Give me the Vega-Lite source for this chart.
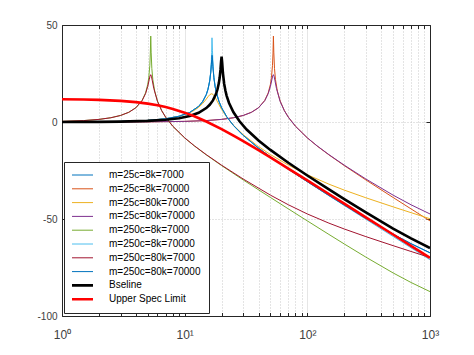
{
  "$schema": "https://vega.github.io/schema/vega-lite/v6.json",
  "width": 368,
  "height": 291,
  "autosize": {"type": "none"},
  "padding": {"left": 62, "top": 25, "right": 44, "bottom": 39},
  "background": "white",
  "config": {"view": {"stroke": null}, "font": "Liberation Sans"},
  "data": {"values": [
    {"s":"m=25c=8k=7000","w":1,"y":0.03},{"s":"m=25c=8k=7000","w":2,"y":0.125},{"s":"m=25c=8k=7000","w":3,"y":0.284},{"s":"m=25c=8k=7000","w":5,"y":0.81},{"s":"m=25c=8k=7000","w":7,"y":1.67},{"s":"m=25c=8k=7000","w":9,"y":2.97},{"s":"m=25c=8k=7000","w":11,"y":4.92},{"s":"m=25c=8k=7000","w":13,"y":8.04},{"s":"m=25c=8k=7000","w":14,"y":10.46},{"s":"m=25c=8k=7000","w":15,"y":14.1},{"s":"m=25c=8k=7000","w":15.5,"y":16.89},{"s":"m=25c=8k=7000","w":16,"y":21.15},{"s":"m=25c=8k=7000","w":16.3,"y":25.29},{"s":"m=25c=8k=7000","w":16.5,"y":29.5},{"s":"m=25c=8k=7000","w":16.6,"y":32.14},{"s":"m=25c=8k=7000","w":16.73,"y":34.37},{"s":"m=25c=8k=7000","w":16.85,"y":32.47},{"s":"m=25c=8k=7000","w":17,"y":28.5},{"s":"m=25c=8k=7000","w":17.3,"y":22.9},{"s":"m=25c=8k=7000","w":17.7,"y":18.37},{"s":"m=25c=8k=7000","w":18,"y":16.0},{"s":"m=25c=8k=7000","w":19,"y":10.75},{"s":"m=25c=8k=7000","w":20,"y":7.35},{"s":"m=25c=8k=7000","w":22,"y":2.75},{"s":"m=25c=8k=7000","w":25,"y":-1.81},{"s":"m=25c=8k=7000","w":30,"y":-6.9},{"s":"m=25c=8k=7000","w":40,"y":-13.46},{"s":"m=25c=8k=7000","w":50,"y":-17.97},{"s":"m=25c=8k=7000","w":70,"y":-24.32},{"s":"m=25c=8k=7000","w":100,"y":-30.75},{"s":"m=25c=8k=7000","w":150,"y":-37.87},{"s":"m=25c=8k=7000","w":200,"y":-42.82},{"s":"m=25c=8k=7000","w":300,"y":-49.63},{"s":"m=25c=8k=7000","w":500,"y":-57.78},{"s":"m=25c=8k=7000","w":700,"y":-62.71},{"s":"m=25c=8k=7000","w":1000,"y":-67.43},

    {"s":"m=25c=8k=70000","w":1,"y":0.003},{"s":"m=25c=8k=70000","w":3,"y":0.028},{"s":"m=25c=8k=70000","w":5,"y":0.078},{"s":"m=25c=8k=70000","w":10,"y":0.316},{"s":"m=25c=8k=70000","w":15,"y":0.728},{"s":"m=25c=8k=70000","w":20,"y":1.339},{"s":"m=25c=8k=70000","w":25,"y":2.193},{"s":"m=25c=8k=70000","w":30,"y":3.369},{"s":"m=25c=8k=70000","w":35,"y":5.0},{"s":"m=25c=8k=70000","w":40,"y":7.36},{"s":"m=25c=8k=70000","w":45,"y":11.16},{"s":"m=25c=8k=70000","w":48,"y":15.03},{"s":"m=25c=8k=70000","w":50,"y":19.39},{"s":"m=25c=8k=70000","w":51,"y":22.94},{"s":"m=25c=8k=70000","w":52,"y":29.17},{"s":"m=25c=8k=70000","w":52.5,"y":35.53},{"s":"m=25c=8k=70000","w":52.9,"y":44.3},{"s":"m=25c=8k=70000","w":53.3,"y":36.0},{"s":"m=25c=8k=70000","w":54,"y":27.56},{"s":"m=25c=8k=70000","w":55,"y":21.87},{"s":"m=25c=8k=70000","w":57,"y":15.89},{"s":"m=25c=8k=70000","w":60,"y":10.88},{"s":"m=25c=8k=70000","w":65,"y":5.87},{"s":"m=25c=8k=70000","w":70,"y":2.5},{"s":"m=25c=8k=70000","w":80,"y":-2.18},{"s":"m=25c=8k=70000","w":100,"y":-8.2},{"s":"m=25c=8k=70000","w":120,"y":-12.35},{"s":"m=25c=8k=70000","w":150,"y":-16.94},{"s":"m=25c=8k=70000","w":200,"y":-22.47},{"s":"m=25c=8k=70000","w":300,"y":-29.86},{"s":"m=25c=8k=70000","w":500,"y":-38.9},{"s":"m=25c=8k=70000","w":700,"y":-44.78},{"s":"m=25c=8k=70000","w":1000,"y":-50.98},

    {"s":"m=25c=80k=7000","w":1,"y":0.031},{"s":"m=25c=80k=7000","w":2,"y":0.125},{"s":"m=25c=80k=7000","w":3,"y":0.283},{"s":"m=25c=80k=7000","w":5,"y":0.809},{"s":"m=25c=80k=7000","w":7,"y":1.658},{"s":"m=25c=80k=7000","w":9,"y":2.922},{"s":"m=25c=80k=7000","w":11,"y":4.776},{"s":"m=25c=80k=7000","w":12,"y":6.02},{"s":"m=25c=80k=7000","w":13,"y":7.56},{"s":"m=25c=80k=7000","w":14,"y":9.48},{"s":"m=25c=80k=7000","w":15,"y":11.8},{"s":"m=25c=80k=7000","w":15.5,"y":13.01},{"s":"m=25c=80k=7000","w":16,"y":14.04},{"s":"m=25c=80k=7000","w":16.5,"y":14.55},{"s":"m=25c=80k=7000","w":17,"y":14.28},{"s":"m=25c=80k=7000","w":17.5,"y":13.29},{"s":"m=25c=80k=7000","w":18,"y":11.92},{"s":"m=25c=80k=7000","w":19,"y":9.03},{"s":"m=25c=80k=7000","w":20,"y":6.49},{"s":"m=25c=80k=7000","w":22,"y":2.53},{"s":"m=25c=80k=7000","w":25,"y":-1.7},{"s":"m=25c=80k=7000","w":30,"y":-6.52},{"s":"m=25c=80k=7000","w":40,"y":-12.68},{"s":"m=25c=80k=7000","w":50,"y":-16.78},{"s":"m=25c=80k=7000","w":70,"y":-22.21},{"s":"m=25c=80k=7000","w":100,"y":-27.19},{"s":"m=25c=80k=7000","w":150,"y":-32.04},{"s":"m=25c=80k=7000","w":200,"y":-35.1},{"s":"m=25c=80k=7000","w":300,"y":-39.06},{"s":"m=25c=80k=7000","w":500,"y":-43.74},{"s":"m=25c=80k=7000","w":700,"y":-46.73},{"s":"m=25c=80k=7000","w":1000,"y":-49.86},

    {"s":"m=25c=80k=70000","w":1,"y":0.003},{"s":"m=25c=80k=70000","w":3,"y":0.028},{"s":"m=25c=80k=70000","w":5,"y":0.078},{"s":"m=25c=80k=70000","w":10,"y":0.316},{"s":"m=25c=80k=70000","w":15,"y":0.727},{"s":"m=25c=80k=70000","w":20,"y":1.338},{"s":"m=25c=80k=70000","w":25,"y":2.19},{"s":"m=25c=80k=70000","w":30,"y":3.362},{"s":"m=25c=80k=70000","w":35,"y":4.98},{"s":"m=25c=80k=70000","w":40,"y":7.32},{"s":"m=25c=80k=70000","w":45,"y":11.02},{"s":"m=25c=80k=70000","w":48,"y":14.65},{"s":"m=25c=80k=70000","w":50,"y":18.33},{"s":"m=25c=80k=70000","w":51.5,"y":22.06},{"s":"m=25c=80k=70000","w":52.2,"y":23.7},{"s":"m=25c=80k=70000","w":52.9,"y":24.39},{"s":"m=25c=80k=70000","w":53.6,"y":23.55},{"s":"m=25c=80k=70000","w":54.5,"y":21.22},{"s":"m=25c=80k=70000","w":56,"y":17.35},{"s":"m=25c=80k=70000","w":60,"y":10.66},{"s":"m=25c=80k=70000","w":65,"y":5.8},{"s":"m=25c=80k=70000","w":70,"y":2.48},{"s":"m=25c=80k=70000","w":80,"y":-2.17},{"s":"m=25c=80k=70000","w":100,"y":-8.16},{"s":"m=25c=80k=70000","w":120,"y":-12.27},{"s":"m=25c=80k=70000","w":150,"y":-16.82},{"s":"m=25c=80k=70000","w":200,"y":-22.25},{"s":"m=25c=80k=70000","w":300,"y":-29.38},{"s":"m=25c=80k=70000","w":500,"y":-37.69},{"s":"m=25c=80k=70000","w":700,"y":-42.66},{"s":"m=25c=80k=70000","w":1000,"y":-47.4},

    {"s":"m=250c=8k=7000","w":1,"y":0.316},{"s":"m=250c=8k=7000","w":1.5,"y":0.728},{"s":"m=250c=8k=7000","w":2,"y":1.339},{"s":"m=250c=8k=7000","w":2.5,"y":2.193},{"s":"m=250c=8k=7000","w":3,"y":3.369},{"s":"m=250c=8k=7000","w":3.5,"y":5.0},{"s":"m=250c=8k=7000","w":4,"y":7.36},{"s":"m=250c=8k=7000","w":4.5,"y":11.16},{"s":"m=250c=8k=7000","w":4.8,"y":15.03},{"s":"m=250c=8k=7000","w":5,"y":19.4},{"s":"m=250c=8k=7000","w":5.1,"y":22.97},{"s":"m=250c=8k=7000","w":5.2,"y":29.17},{"s":"m=250c=8k=7000","w":5.25,"y":35.53},{"s":"m=250c=8k=7000","w":5.29,"y":44.3},{"s":"m=250c=8k=7000","w":5.33,"y":36.0},{"s":"m=250c=8k=7000","w":5.4,"y":27.56},{"s":"m=250c=8k=7000","w":5.5,"y":21.9},{"s":"m=250c=8k=7000","w":5.7,"y":15.9},{"s":"m=250c=8k=7000","w":6,"y":10.88},{"s":"m=250c=8k=7000","w":6.5,"y":5.87},{"s":"m=250c=8k=7000","w":7,"y":2.5},{"s":"m=250c=8k=7000","w":8,"y":-2.18},{"s":"m=250c=8k=7000","w":10,"y":-8.2},{"s":"m=250c=8k=7000","w":12,"y":-12.35},{"s":"m=250c=8k=7000","w":15,"y":-16.95},{"s":"m=250c=8k=7000","w":20,"y":-22.47},{"s":"m=250c=8k=7000","w":30,"y":-29.86},{"s":"m=250c=8k=7000","w":50,"y":-38.9},{"s":"m=250c=8k=7000","w":70,"y":-44.78},{"s":"m=250c=8k=7000","w":100,"y":-50.98},{"s":"m=250c=8k=7000","w":150,"y":-57.96},{"s":"m=250c=8k=7000","w":200,"y":-62.87},{"s":"m=250c=8k=7000","w":300,"y":-69.66},{"s":"m=250c=8k=7000","w":500,"y":-77.79},{"s":"m=250c=8k=7000","w":700,"y":-82.71},{"s":"m=250c=8k=7000","w":1000,"y":-87.43},

    {"s":"m=250c=8k=70000","w":1,"y":0.03},{"s":"m=250c=8k=70000","w":2,"y":0.125},{"s":"m=250c=8k=70000","w":3,"y":0.284},{"s":"m=250c=8k=70000","w":5,"y":0.81},{"s":"m=250c=8k=70000","w":7,"y":1.67},{"s":"m=250c=8k=70000","w":9,"y":2.97},{"s":"m=250c=8k=70000","w":11,"y":4.92},{"s":"m=250c=8k=70000","w":13,"y":8.04},{"s":"m=250c=8k=70000","w":14,"y":10.46},{"s":"m=250c=8k=70000","w":15,"y":14.13},{"s":"m=250c=8k=70000","w":15.5,"y":16.96},{"s":"m=250c=8k=70000","w":16,"y":21.34},{"s":"m=250c=8k=70000","w":16.3,"y":25.82},{"s":"m=250c=8k=70000","w":16.5,"y":31.16},{"s":"m=250c=8k=70000","w":16.6,"y":35.94},{"s":"m=250c=8k=70000","w":16.7,"y":43.4},{"s":"m=250c=8k=70000","w":16.85,"y":37.0},{"s":"m=250c=8k=70000","w":17,"y":29.84},{"s":"m=250c=8k=70000","w":17.3,"y":23.23},{"s":"m=250c=8k=70000","w":17.7,"y":18.5},{"s":"m=250c=8k=70000","w":18,"y":16.07},{"s":"m=250c=8k=70000","w":19,"y":10.77},{"s":"m=250c=8k=70000","w":20,"y":7.36},{"s":"m=250c=8k=70000","w":22,"y":2.75},{"s":"m=250c=8k=70000","w":25,"y":-1.81},{"s":"m=250c=8k=70000","w":30,"y":-6.9},{"s":"m=250c=8k=70000","w":40,"y":-13.47},{"s":"m=250c=8k=70000","w":50,"y":-17.98},{"s":"m=250c=8k=70000","w":70,"y":-24.35},{"s":"m=250c=8k=70000","w":100,"y":-30.81},{"s":"m=250c=8k=70000","w":150,"y":-37.99},{"s":"m=250c=8k=70000","w":200,"y":-43.03},{"s":"m=250c=8k=70000","w":300,"y":-50.11},{"s":"m=250c=8k=70000","w":500,"y":-58.99},{"s":"m=250c=8k=70000","w":700,"y":-64.83},{"s":"m=250c=8k=70000","w":1000,"y":-71.0},

    {"s":"m=250c=80k=7000","w":1,"y":0.316},{"s":"m=250c=80k=7000","w":1.5,"y":0.727},{"s":"m=250c=80k=7000","w":2,"y":1.338},{"s":"m=250c=80k=7000","w":2.5,"y":2.19},{"s":"m=250c=80k=7000","w":3,"y":3.362},{"s":"m=250c=80k=7000","w":3.5,"y":4.98},{"s":"m=250c=80k=7000","w":4,"y":7.32},{"s":"m=250c=80k=7000","w":4.5,"y":11.02},{"s":"m=250c=80k=7000","w":4.8,"y":14.65},{"s":"m=250c=80k=7000","w":5,"y":18.33},{"s":"m=250c=80k=7000","w":5.15,"y":22.06},{"s":"m=250c=80k=7000","w":5.22,"y":23.7},{"s":"m=250c=80k=7000","w":5.29,"y":24.39},{"s":"m=250c=80k=7000","w":5.36,"y":23.55},{"s":"m=250c=80k=7000","w":5.45,"y":21.22},{"s":"m=250c=80k=7000","w":5.6,"y":17.35},{"s":"m=250c=80k=7000","w":6,"y":10.66},{"s":"m=250c=80k=7000","w":6.5,"y":5.8},{"s":"m=250c=80k=7000","w":7,"y":2.48},{"s":"m=250c=80k=7000","w":8,"y":-2.17},{"s":"m=250c=80k=7000","w":10,"y":-8.16},{"s":"m=250c=80k=7000","w":12,"y":-12.27},{"s":"m=250c=80k=7000","w":15,"y":-16.82},{"s":"m=250c=80k=7000","w":20,"y":-22.25},{"s":"m=250c=80k=7000","w":30,"y":-29.38},{"s":"m=250c=80k=7000","w":50,"y":-37.69},{"s":"m=250c=80k=7000","w":70,"y":-42.66},{"s":"m=250c=80k=7000","w":100,"y":-47.4},{"s":"m=250c=80k=7000","w":150,"y":-52.14},{"s":"m=250c=80k=7000","w":200,"y":-55.15},{"s":"m=250c=80k=7000","w":300,"y":-59.08},{"s":"m=250c=80k=7000","w":500,"y":-63.74},{"s":"m=250c=80k=7000","w":700,"y":-66.73},{"s":"m=250c=80k=7000","w":1000,"y":-69.86},

    {"s":"m=250c=80k=70000","w":1,"y":0.03},{"s":"m=250c=80k=70000","w":2,"y":0.125},{"s":"m=250c=80k=70000","w":3,"y":0.284},{"s":"m=250c=80k=70000","w":5,"y":0.81},{"s":"m=250c=80k=70000","w":7,"y":1.67},{"s":"m=250c=80k=70000","w":9,"y":2.97},{"s":"m=250c=80k=70000","w":11,"y":4.92},{"s":"m=250c=80k=70000","w":13,"y":8.04},{"s":"m=250c=80k=70000","w":14,"y":10.46},{"s":"m=250c=80k=70000","w":15,"y":14.1},{"s":"m=250c=80k=70000","w":15.5,"y":16.89},{"s":"m=250c=80k=70000","w":16,"y":21.15},{"s":"m=250c=80k=70000","w":16.3,"y":25.29},{"s":"m=250c=80k=70000","w":16.5,"y":29.5},{"s":"m=250c=80k=70000","w":16.6,"y":32.14},{"s":"m=250c=80k=70000","w":16.73,"y":34.37},{"s":"m=250c=80k=70000","w":16.85,"y":32.47},{"s":"m=250c=80k=70000","w":17,"y":28.5},{"s":"m=250c=80k=70000","w":17.3,"y":22.9},{"s":"m=250c=80k=70000","w":17.7,"y":18.37},{"s":"m=250c=80k=70000","w":18,"y":16.0},{"s":"m=250c=80k=70000","w":19,"y":10.75},{"s":"m=250c=80k=70000","w":20,"y":7.35},{"s":"m=250c=80k=70000","w":22,"y":2.75},{"s":"m=250c=80k=70000","w":25,"y":-1.81},{"s":"m=250c=80k=70000","w":30,"y":-6.9},{"s":"m=250c=80k=70000","w":40,"y":-13.46},{"s":"m=250c=80k=70000","w":50,"y":-17.97},{"s":"m=250c=80k=70000","w":70,"y":-24.32},{"s":"m=250c=80k=70000","w":100,"y":-30.75},{"s":"m=250c=80k=70000","w":150,"y":-37.87},{"s":"m=250c=80k=70000","w":200,"y":-42.82},{"s":"m=250c=80k=70000","w":300,"y":-49.63},{"s":"m=250c=80k=70000","w":500,"y":-57.78},{"s":"m=250c=80k=70000","w":700,"y":-62.71},{"s":"m=250c=80k=70000","w":1000,"y":-67.43},

    {"s":"Bseline","w":1,"y":0.022},{"s":"Bseline","w":2,"y":0.087},{"s":"Bseline","w":3,"y":0.198},{"s":"Bseline","w":5,"y":0.561},{"s":"Bseline","w":7,"y":1.135},{"s":"Bseline","w":9,"y":1.965},{"s":"Bseline","w":11,"y":3.128},{"s":"Bseline","w":13,"y":4.769},{"s":"Bseline","w":15,"y":7.18},{"s":"Bseline","w":16,"y":8.87},{"s":"Bseline","w":17,"y":11.12},{"s":"Bseline","w":18,"y":14.39},{"s":"Bseline","w":18.5,"y":16.74},{"s":"Bseline","w":19,"y":20.06},{"s":"Bseline","w":19.3,"y":22.92},{"s":"Bseline","w":19.6,"y":27.1},{"s":"Bseline","w":19.8,"y":31.04},{"s":"Bseline","w":20,"y":33.7},{"s":"Bseline","w":20.2,"y":30.9},{"s":"Bseline","w":20.5,"y":25.25},{"s":"Bseline","w":21,"y":19.61},{"s":"Bseline","w":21.5,"y":16.08},{"s":"Bseline","w":22,"y":13.51},{"s":"Bseline","w":23,"y":9.81},{"s":"Bseline","w":25,"y":4.99},{"s":"Bseline","w":28,"y":0.354},{"s":"Bseline","w":32,"y":-3.86},{"s":"Bseline","w":40,"y":-9.54},{"s":"Bseline","w":50,"y":-14.39},{"s":"Bseline","w":70,"y":-21.0},{"s":"Bseline","w":100,"y":-27.56},{"s":"Bseline","w":150,"y":-34.75},{"s":"Bseline","w":200,"y":-39.74},{"s":"Bseline","w":300,"y":-46.63},{"s":"Bseline","w":500,"y":-54.93},{"s":"Bseline","w":700,"y":-60.02},{"s":"Bseline","w":1000,"y":-64.94},

    {"s":"Upper Spec Limit","w":1,"y":11.69},{"s":"Upper Spec Limit","w":1.5,"y":11.56},{"s":"Upper Spec Limit","w":2,"y":11.38},{"s":"Upper Spec Limit","w":3,"y":10.89},{"s":"Upper Spec Limit","w":4,"y":10.24},{"s":"Upper Spec Limit","w":5,"y":9.47},{"s":"Upper Spec Limit","w":6,"y":8.61},{"s":"Upper Spec Limit","w":7,"y":7.69},{"s":"Upper Spec Limit","w":8,"y":6.74},{"s":"Upper Spec Limit","w":10,"y":4.82},{"s":"Upper Spec Limit","w":12,"y":2.93},{"s":"Upper Spec Limit","w":15,"y":0.25},{"s":"Upper Spec Limit","w":20,"y":-3.67},{"s":"Upper Spec Limit","w":25,"y":-7.01},{"s":"Upper Spec Limit","w":30,"y":-9.86},{"s":"Upper Spec Limit","w":40,"y":-14.54},{"s":"Upper Spec Limit","w":50,"y":-18.26},{"s":"Upper Spec Limit","w":70,"y":-23.98},{"s":"Upper Spec Limit","w":100,"y":-30.1},{"s":"Upper Spec Limit","w":150,"y":-37.11},{"s":"Upper Spec Limit","w":200,"y":-42.09},{"s":"Upper Spec Limit","w":300,"y":-49.12},{"s":"Upper Spec Limit","w":500,"y":-57.99},{"s":"Upper Spec Limit","w":700,"y":-63.84},{"s":"Upper Spec Limit","w":1000,"y":-70.03}
  ]},
  "layer": [
    {
      "mark": {"type": "line", "clip": true},
      "encoding": {
        "x": {"field": "w", "type": "quantitative",
          "scale": {"type": "log", "domain": [1, 1000], "nice": false},
          "axis": {"orient": "bottom", "title": null,
            "values": [1,2,3,4,5,6,7,8,9,10,20,30,40,50,60,70,80,90,100,200,300,400,500,600,700,800,900,1000],
            "labelExpr": "datum.value == 1 ? '10⁰' : datum.value == 10 ? '10¹' : datum.value == 100 ? '10²' : datum.value == 1000 ? '10³' : ''",
            "grid": true,
            "gridColor": {"condition": {"test": "datum.value == 1 || datum.value == 10 || datum.value == 100 || datum.value == 1000", "value": "#e6e6e6"}, "value": "#c8c8c8"},
            "gridDash": {"condition": {"test": "datum.value == 1 || datum.value == 10 || datum.value == 100 || datum.value == 1000", "value": []}, "value": [1, 2]},
            "gridWidth": 1,
            "tickSize": -3.5, "tickColor": "#262626", "domainColor": "#262626", "domainWidth": 1,
            "labelFont": "Liberation Sans", "labelFontSize": 12, "labelColor": "#404040",
            "labelPadding": 17, "labelDx": 2, "labelFlush": false, "labelOverlap": false, "labelBound": false}},
        "y": {"field": "y", "type": "quantitative",
          "scale": {"domain": [-100, 50], "nice": false, "zero": false},
          "axis": {"orient": "left", "title": null, "values": [-100, -50, 0, 50],
            "labelExpr": "'' + datum.value",
            "grid": true, "gridColor": "#c8c8c8", "gridDash": [1, 2],
            "tickSize": -4, "tickColor": "#262626", "domainColor": "#262626", "domainWidth": 1,
            "labelFont": "Liberation Sans", "labelFontSize": 10, "labelColor": "#404040",
            "labelPadding": 9, "labelFlush": false, "labelOverlap": false}},
        "color": {"field": "s", "type": "nominal",
          "scale": {"domain": ["m=25c=8k=7000","m=25c=8k=70000","m=25c=80k=7000","m=25c=80k=70000","m=250c=8k=7000","m=250c=8k=70000","m=250c=80k=7000","m=250c=80k=70000","Bseline","Upper Spec Limit"],
            "range": ["#0072BD","#D95319","#EDB120","#7E2F8E","#77AC30","#4DBEEE","#A2142F","#0072BD","#000000","#FF0000"]},
          "legend": {"orient": "none", "legendX": 2, "legendY": 137, "title": null,
            "symbolType": "stroke", "symbolSize": 1024, "clipHeight": 10,
            "labelFont": "Liberation Sans", "labelFontSize": 10, "labelColor": "#000000",
            "labelOffset": 27, "rowPadding": 3.8, "padding": 8,
            "strokeColor": "#262626", "fillColor": "#ffffff", "cornerRadius": 0,
            "encode": {"symbols": {"update": {"strokeWidth": {"signal": "datum.value == 'Bseline' || datum.value == 'Upper Spec Limit' ? 2.6 : 1"}}}}}},
        "strokeWidth": {"condition": {"test": "datum.s == 'Bseline' || datum.s == 'Upper Spec Limit'", "value": 2.6}, "value": 1}
      }
    },
    {
      "mark": {"type": "line", "opacity": 0},
      "encoding": {
        "x": {"field": "w", "type": "quantitative",
          "axis": {"orient": "top", "title": null, "labels": false, "grid": false,
            "values": [1,2,3,4,5,6,7,8,9,10,20,30,40,50,60,70,80,90,100,200,300,400,500,600,700,800,900,1000],
            "tickSize": -3.5, "tickColor": "#262626", "domainColor": "#262626"}},
        "y": {"field": "y", "type": "quantitative",
          "axis": {"orient": "right", "title": null, "labels": false, "grid": false,
            "values": [-100, -50, 0, 50],
            "tickSize": -4, "tickColor": "#262626", "domainColor": "#262626"}},
        "detail": {"field": "s"}
      }
    }
  ],
  "resolve": {"axis": {"x": "independent", "y": "independent"}}
}
